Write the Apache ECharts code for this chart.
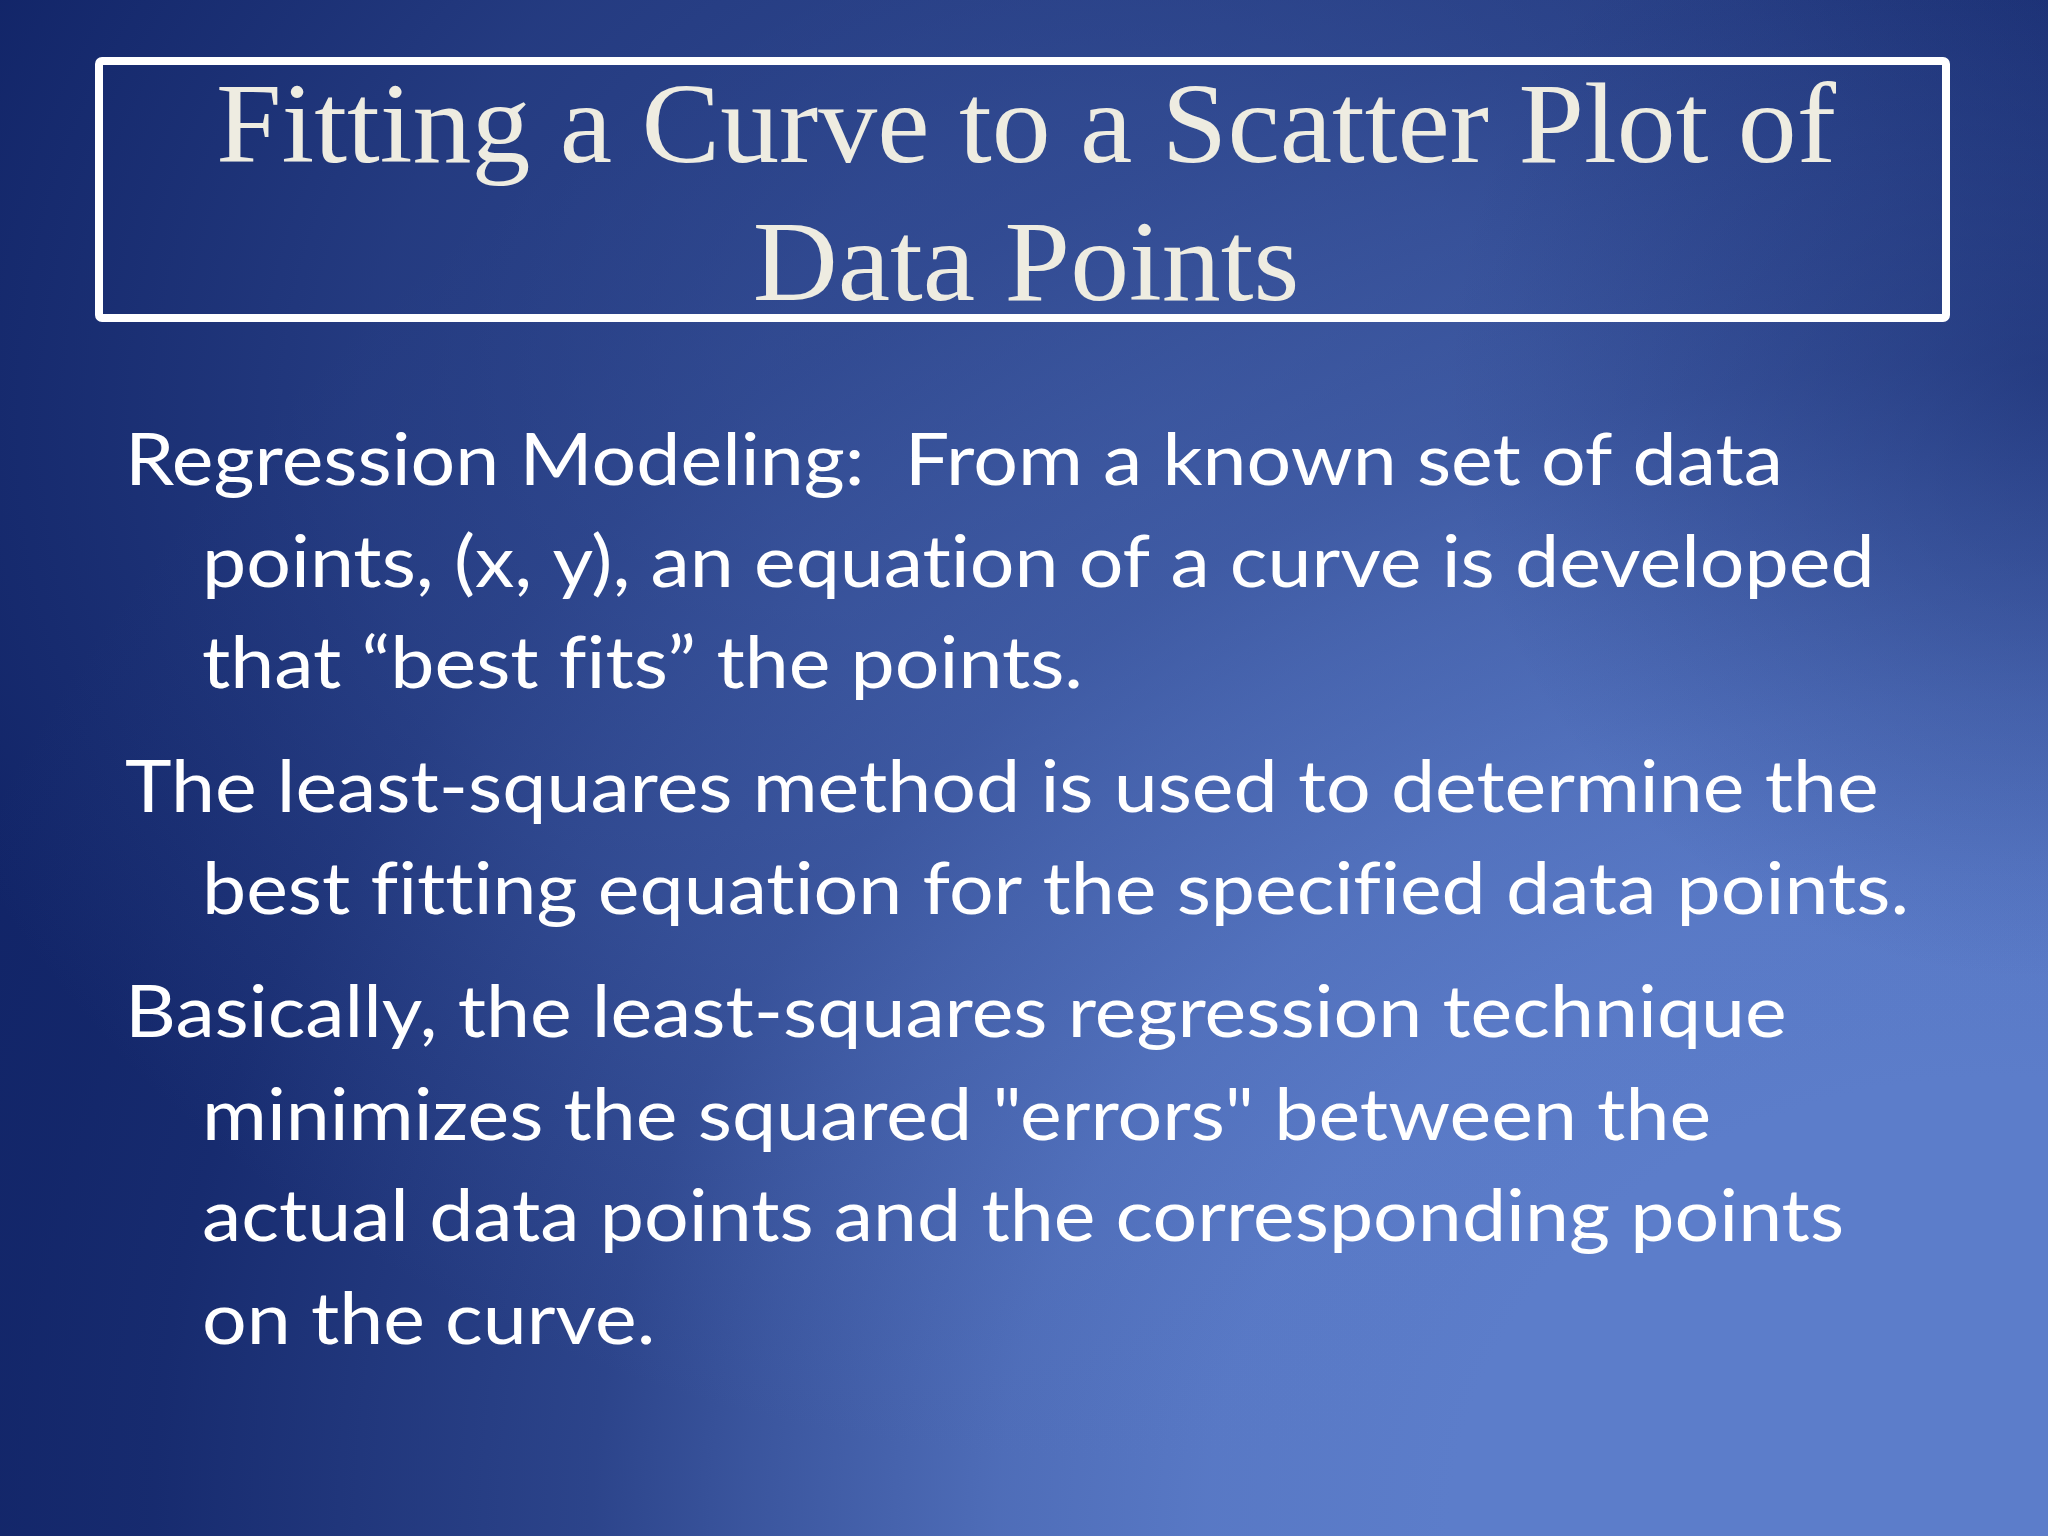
<!DOCTYPE html>
<html><head><meta charset="utf-8">
<script src="https://cdn.jsdelivr.net/npm/echarts@6/dist/echarts.min.js"></script>
<style>html,body{margin:0;padding:0;background:#112467}#c{width:2048px;height:1536px}</style>
</head><body><div id="c"></div>
<script>
// ---- content ----
var titleLines = ["Fitting a Curve to a Scatter Plot of", "Data Points"];
var para1 = ["Regression Modeling:  From a known set of data", "points, (x, y), an equation of a curve is developed", "that \u201cbest fits\u201d the points."];
var para2 = ["The least-squares method is used to determine the", "best fitting equation for the specified data points."];
var para3 = ["Basically, the least-squares regression technique", "minimizes the squared \"errors\" between the", "actual data points and the corresponding points", "on the curve."];
var paragraphs = [para1, para2, para3];

// plain glyphs (no fi / ti ligatures), like the slide's font
(function () {
  var P = CanvasRenderingContext2D.prototype;
  var of = P.fillText, om = P.measureText;
  P.fillText = function () { try { this.textRendering = 'optimizeSpeed'; } catch (e) {} return of.apply(this, arguments); };
  P.measureText = function () { try { this.textRendering = 'optimizeSpeed'; } catch (e) {} return om.apply(this, arguments); };
})();

// ---- layout ----
var W = 2048, H = 1536;
var titleFont = '115px "Liberation Serif"';
var bodyFont = '72px Lato';
var ctx = document.createElement('canvas').getContext('2d');
function tw(t, f){ ctx.font = f; return ctx.measureText(t).width; }
var titleScale = 1620 / tw(titleLines[0], titleFont);
var bodyScale = 1707 / tw(para2[1], bodyFont);

function glow(r, g, b, stops) {
  return stops.map(function (s) { return { offset: s[0], color: 'rgba(' + r + ',' + g + ',' + b + ',' + s[1] + ')' }; });
}
var kA = 1.2, kB = 1.24;
var elements = [];
// dark base
elements.push({ type: 'rect', z: 0, silent: true, shape: { x: 0, y: 0, width: W, height: H }, style: { fill: '#112467' } });
// main glow from the lower right
elements.push({
  type: 'rect', z: 0, silent: true, scaleY: 1 / kA, originX: 0, originY: 0,
  shape: { x: 0, y: 0, width: W, height: H * kA },
  style: { fill: { type: 'radial', global: true, x: 2000, y: 1536 * kA, r: 2200,
    colorStops: glow(92, 125, 202, [[0, 1], [0.25, 1], [0.36, 0.95], [0.455, 0.82], [0.57, 0.55], [0.64, 0.36], [0.72, 0.25], [0.77, 0.18], [0.84, 0.08], [0.91, 0.03], [1, 0]]) } }
});
// soft glow behind the upper middle
elements.push({
  type: 'rect', z: 0, silent: true, scaleY: 1 / kB, originX: 0, originY: 0,
  shape: { x: 0, y: 0, width: W, height: H * kB },
  style: { fill: { type: 'radial', global: true, x: 1150, y: 420 * kB, r: 1300,
    colorStops: glow(92, 125, 202, [[0, 0.42], [0.3, 0.38], [0.6, 0.26], [0.8, 0.12], [1, 0]]) } }
});
// darker upper right edge
elements.push({
  type: 'rect', z: 0, silent: true,
  shape: { x: 1400, y: 0, width: 648, height: 1100 },
  style: { fill: { type: 'radial', global: true, x: 2048, y: 380, r: 600,
    colorStops: glow(17, 36, 103, [[0, 0.45], [0.5, 0.22], [1, 0]]) } }
});
// title frame
elements.push({
  type: 'rect', z: 2,
  shape: { x: 99, y: 61, width: 1847, height: 257, r: 3 },
  style: { fill: 'none', stroke: '#ffffff', lineWidth: 8 }
});
var titleBase = [169, 307];
titleLines.forEach(function (t, i) {
  elements.push({
    type: 'text', x: 1026, y: titleBase[i] - 37, scaleX: titleScale, z: 3,
    style: { text: t, font: titleFont, fill: '#eeece1', align: 'center', verticalAlign: 'middle' }
  });
});
var bodyBase = [[485, 587, 688], [812, 914], [1037, 1140, 1241, 1344]];
paragraphs.forEach(function (p, pi) {
  p.forEach(function (t, li) {
    elements.push({
      type: 'text', x: li === 0 ? 125 : 202, y: bodyBase[pi][li] - 23, scaleX: bodyScale, z: 3,
      style: { text: t, font: bodyFont, fill: '#ffffff', align: 'left', verticalAlign: 'middle' }
    });
  });
});

var chart = echarts.init(document.getElementById('c'), null, { renderer: 'canvas', width: W, height: H });
chart.setOption({ animation: false, graphic: { elements: elements } });
</script></body></html>
